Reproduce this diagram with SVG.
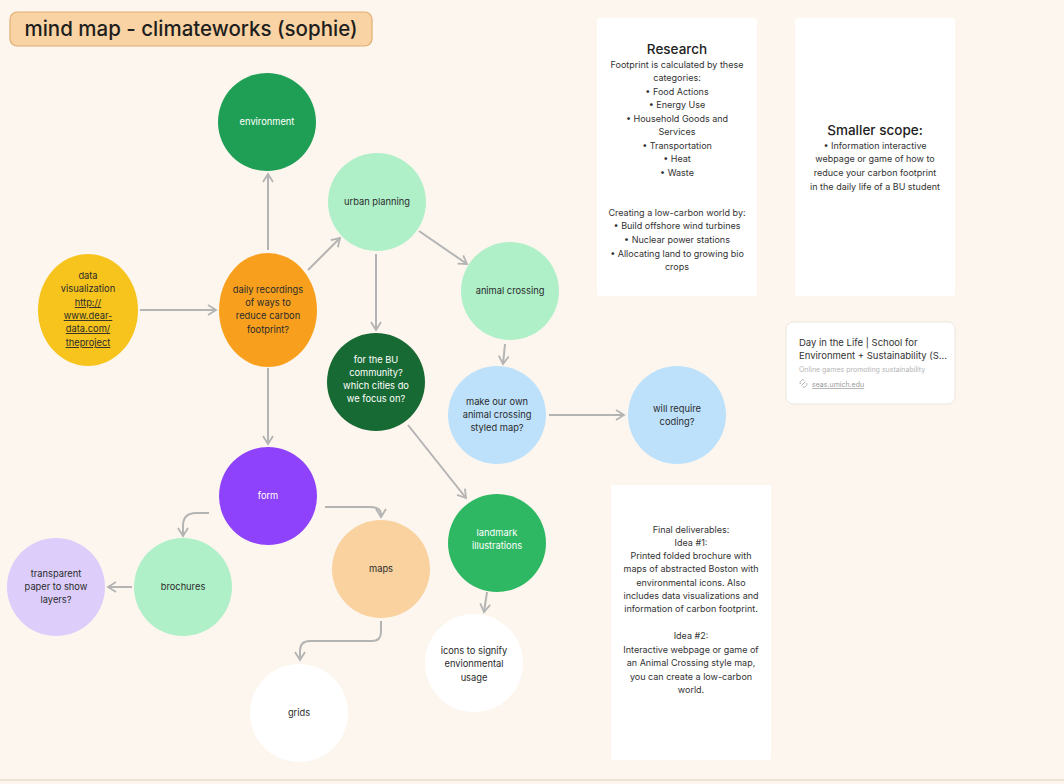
<svg xmlns="http://www.w3.org/2000/svg" width="1064" height="784" viewBox="0 0 1064 784">
<defs>
<style>
text{font-family:Inter,"Noto Sans","Liberation Sans",sans-serif;text-anchor:middle;}
.t{font-size:9.3px;fill:#2b2b2b;}
.w{font-size:9.3px;fill:#ffffff;}
.b{font-size:9px;fill:#333333;}
.h{font-size:13.5px;fill:#222222;font-weight:500;}
.c{fill:none;stroke:#b4b4b4;stroke-width:2;marker-end:url(#ah);}
.card{fill:#ffffff;}
</style>
<marker id="ah" viewBox="0 0 12 12" refX="10" refY="6" markerWidth="12" markerHeight="12" markerUnits="userSpaceOnUse" orient="auto">
<path d="M2 1 L10 6 L2 11" fill="none" stroke="#b4b4b4" stroke-width="1.8"/>
</marker>
</defs>
<rect x="0" y="0" width="1064" height="784" fill="#fdf6ee"/>
<line x1="0" y1="780" x2="1064" y2="780" stroke="#ece3d4" stroke-width="2"/>

<g id="title">
<rect x="10" y="12" width="362" height="34" rx="7" fill="#f9d3a3" stroke="#dfae74" stroke-width="1.2"/>
<text x="191" y="36" style="font-size:20.5px;font-weight:500;fill:#1e1e1e;font-family:Inter,'Liberation Sans',sans-serif">mind map - climateworks (sophie)</text>
</g>

<g id="connectors">
<path class="c" d="M140 310 H216"/>
<path class="c" d="M268 250 V174"/>
<path class="c" d="M308 270 L340 238"/>
<path class="c" d="M268 368 V444"/>
<path class="c" d="M376 254 V330"/>
<path class="c" d="M419 231 L467 264"/>
<path class="c" d="M505 344 L503 364"/>
<path class="c" d="M408 425 L466 498"/>
<path class="c" d="M549 415 H624"/>
<path class="c" d="M487 592 L484 612"/>
<path class="c" d="M209 513 H196 Q183 513 183 526 V536"/>
<path class="c" d="M325 507 H370 Q381 507 381 515 V517"/>
<path class="c" d="M132 587 H108"/>
<path class="c" d="M381 621 V632 Q381 641 372 641 H310 Q300 641 300 651 V660"/>
</g>

<g id="n-environment"><circle cx="267" cy="122" r="49" fill="#1f9f55"/><text class="w" x="267" y="125">environment</text></g>
<g id="n-urban"><circle cx="377" cy="202" r="49" fill="#aff0c9"/><text class="t" x="377" y="205">urban planning</text></g>
<g id="n-dataviz"><ellipse cx="88" cy="310" rx="50" ry="56" fill="#f6c41c"/>
<text class="t" x="88" y="279">data</text><text class="t" x="88" y="292">visualization</text>
<text class="t" x="88" y="306" text-decoration="underline">http://</text><text class="t" x="88" y="319" text-decoration="underline">www.dear-</text><text class="t" x="88" y="332" text-decoration="underline">data.com/</text><text class="t" x="88" y="346" text-decoration="underline">theproject</text></g>
<g id="n-daily"><ellipse cx="268" cy="310" rx="49" ry="57" fill="#f8a01e"/>
<text class="t" x="268" y="293">daily recordings</text><text class="t" x="268" y="306">of ways to</text><text class="t" x="268" y="319">reduce carbon</text><text class="t" x="268" y="333">footprint?</text></g>
<g id="n-animal"><circle cx="510" cy="291" r="49" fill="#aff0c9"/><text class="t" x="510" y="294">animal crossing</text></g>
<g id="n-bu"><circle cx="376" cy="382" r="49" fill="#176a33"/>
<text class="w" x="376" y="363">for the BU</text><text class="w" x="376" y="376">community?</text><text class="w" x="376" y="389">which cities do</text><text class="w" x="376" y="402">we focus on?</text></g>
<g id="n-make"><circle cx="497" cy="415" r="49" fill="#bde1fb"/>
<text class="t" x="497" y="405">make our own</text><text class="t" x="497" y="418">animal crossing</text><text class="t" x="497" y="431">styled map?</text></g>
<g id="n-coding"><circle cx="677" cy="415" r="49" fill="#bde1fb"/>
<text class="t" x="677" y="412">will require</text><text class="t" x="677" y="425">coding?</text></g>
<g id="n-form"><circle cx="268" cy="496" r="49" fill="#8f42fb"/><text class="w" x="268" y="499">form</text></g>
<g id="n-landmark"><circle cx="497" cy="543" r="49" fill="#2fb863"/>
<text class="w" x="497" y="536">landmark</text><text class="w" x="497" y="549">illustrations</text></g>
<g id="n-brochures"><circle cx="183" cy="587" r="49" fill="#aff0c9"/><text class="t" x="183" y="590">brochures</text></g>
<g id="n-transparent"><circle cx="56" cy="587" r="49" fill="#dccdfb"/>
<text class="t" x="56" y="577">transparent</text><text class="t" x="56" y="590">paper to show</text><text class="t" x="56" y="603">layers?</text></g>
<g id="n-maps"><circle cx="381" cy="569" r="49" fill="#f9d29f"/><text class="t" x="381" y="572">maps</text></g>
<g id="n-icons"><circle cx="474" cy="663" r="49" fill="#ffffff"/>
<text class="t" x="474" y="654">icons to signify</text><text class="t" x="474" y="667">envionmental</text><text class="t" x="474" y="681">usage</text></g>
<g id="n-grids"><circle cx="299" cy="713" r="49" fill="#ffffff"/><text class="t" x="299" y="716">grids</text></g>

<g id="research">
<rect class="card" x="597" y="18" width="160" height="278" rx="2"/>
<text class="h" x="677" y="54">Research</text>
<text class="b" x="677" y="68">Footprint is calculated by these</text>
<text class="b" x="677" y="81">categories:</text>
<text class="b" x="677" y="95">•  Food Actions</text>
<text class="b" x="677" y="108">•  Energy Use</text>
<text class="b" x="677" y="122">•  Household Goods and</text>
<text class="b" x="677" y="135">Services</text>
<text class="b" x="677" y="149">•  Transportation</text>
<text class="b" x="677" y="162">•  Heat</text>
<text class="b" x="677" y="176">•  Waste</text>
<text class="b" x="677" y="216">Creating a low-carbon world by:</text>
<text class="b" x="677" y="229">•  Build offshore wind turbines</text>
<text class="b" x="677" y="243">•  Nuclear power stations</text>
<text class="b" x="677" y="257">•  Allocating land to growing bio</text>
<text class="b" x="677" y="270">crops</text>
</g>

<g id="scope">
<rect class="card" x="795" y="18" width="160" height="278" rx="2"/>
<text class="h" x="875" y="135">Smaller scope:</text>
<text class="b" x="875" y="149">•  Information interactive</text>
<text class="b" x="875" y="162">webpage or game of how to</text>
<text class="b" x="875" y="176">reduce your carbon footprint</text>
<text class="b" x="875" y="190">in the daily life of a BU student</text>
</g>

<g id="linkcard">
<rect x="786" y="322" width="169" height="82" rx="7" fill="#ffffff" stroke="#ebe6df" stroke-width="1"/>
<text x="799" y="346" style="font-size:9.5px;fill:#333;text-anchor:start">Day in the Life | School for</text>
<text x="799" y="359" style="font-size:9.5px;fill:#333;text-anchor:start">Environment + Sustainability (S...</text>
<text x="799" y="372" style="font-size:7px;fill:#b5b5b5;text-anchor:start">Online games promoting sustainability</text>
<path d="M801.5 385.5 l4 -4 M800.5 384 a1.8 1.8 0 0 1 0 -2.5 l1.2 -1.2 a1.8 1.8 0 0 1 2.5 0 M806.5 383 a1.8 1.8 0 0 1 0 2.5 l-1.2 1.2 a1.8 1.8 0 0 1 -2.5 0" fill="none" stroke="#aaa" stroke-width="0.9"/>
<text x="812" y="387" text-decoration="underline" style="font-size:7px;fill:#999;text-anchor:start">seas.umich.edu</text>
</g>

<g id="deliverables">
<rect class="card" x="611" y="485" width="160" height="275" rx="2"/>
<text class="b" x="691" y="533">Final deliverables:</text>
<text class="b" x="691" y="546">Idea #1:</text>
<text class="b" x="691" y="559">Printed folded brochure with</text>
<text class="b" x="691" y="572">maps of abstracted Boston with</text>
<text class="b" x="691" y="586">environmental icons. Also</text>
<text class="b" x="691" y="599">includes data visualizations and</text>
<text class="b" x="691" y="612">information of carbon footprint.</text>
<text class="b" x="691" y="639">Idea #2:</text>
<text class="b" x="691" y="653">Interactive webpage or game of</text>
<text class="b" x="691" y="666">an Animal Crossing style map,</text>
<text class="b" x="691" y="680">you can create a low-carbon</text>
<text class="b" x="691" y="693">world.</text>
</g>
</svg>
